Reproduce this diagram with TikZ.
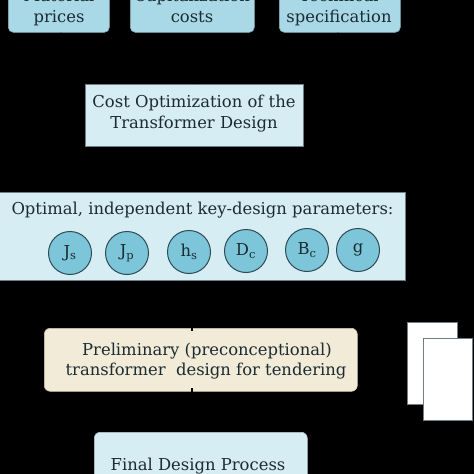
\documentclass[tikz,border=0pt]{standalone}
\usepackage{fontspec}
\setmainfont{DejaVu Serif}
\usetikzlibrary{arrows.meta}
\definecolor{txt}{HTML}{1B2B32}
\definecolor{topfill}{HTML}{A9D9E7}
\definecolor{lightfill}{HTML}{D6EDF4}
\definecolor{circfill}{HTML}{7DC6DA}
\definecolor{circline}{HTML}{2E4A52}
\definecolor{beige}{HTML}{F2EBD7}
\definecolor{edge}{HTML}{6E7E84}
\tikzset{
  every node/.style={text=txt, font=\fontsize{16.4}{21}\selectfont},
  topbox/.style={draw=topfill!80!black, fill=topfill, rounded corners=5pt, line width=0.6pt, align=center, inner sep=0pt, anchor=north west},
  flatbox/.style={draw=edge, fill=lightfill, line width=0.8pt, align=center, inner sep=0pt, anchor=north west},
  prelimbox/.style={draw=beige!85!black, fill=beige, rounded corners=6pt, line width=0.6pt, align=center, inner sep=0pt, anchor=north west},
  finalbox/.style={draw=lightfill!85!black, fill=lightfill, rounded corners=6pt, line width=0.6pt, align=center, inner sep=0pt, anchor=north west},
  param/.style={circle, draw=circline, fill=circfill, line width=1pt, minimum size=43pt, inner sep=0pt},
  docsheet/.style={draw=edge, fill=white, line width=1pt, anchor=north west, inner sep=0pt},
  link/.style={draw=black, line width=1.2pt}
}
\begin{document}
\begin{tikzpicture}[x=1pt,y=-1pt]
\fill[black] (0,0) rectangle (474,474);
\useasboundingbox (0,0) rectangle (474,474);
\clip (0,0) rectangle (474,474);
% top inputs
\node[topbox, minimum width=101pt, minimum height=62pt] (mat) at (8,-30) {};
\node[topbox, minimum width=124pt, minimum height=62pt] (cap) at (130,-30) {};
\node[topbox, minimum width=121pt, minimum height=62pt] (tec) at (279,-30) {};
\node[anchor=base] (matT) at (59,22) {prices};
\node[anchor=base] (matU) at (59,1) {Material};
\node[anchor=base] (capT) at (192,22) {costs};
\node[anchor=base] (capU) at (192,1) {Capitalization};
\node[anchor=base] (tecT) at (339,22) {specification};
\node[anchor=base] (tecU) at (339,1) {Technical};
% cost optimization
\node[flatbox, minimum width=218pt, minimum height=62pt] (cost) at (85,84) {};
\node[anchor=base, align=center] (costT) at (194,107) {Cost Optimization of the};
\node[anchor=base] (costU) at (194,128) {Transformer Design};
% parameters
\node[flatbox, minimum width=410pt, minimum height=88pt] (par) at (-5,192) {};
\node[anchor=base] (parT) at (202.5,214) {Optimal, independent key-design parameters:};
\node[param] (js) at (70,253) {J\textsubscript{s}};
\node[param] (jp) at (127,253) {J\textsubscript{p}};
\node[param] (hs) at (189,252) {h\textsubscript{s}};
\node[param] (dc) at (246,251) {D\textsubscript{c}};
\node[param] (bc) at (307,250) {B\textsubscript{c}};
\node[param] (g) at (358,250) {g};
% preliminary
\node[prelimbox, minimum width=313pt, minimum height=63pt] (pre) at (44,328) {};
\node[anchor=base] (preT) at (207,355) {Preliminary (preconceptional)};
\node[anchor=base] (preU) at (206,375) {transformer\ \ design for tendering};
% documents
\node[docsheet, minimum width=50pt, minimum height=82pt] (doc1) at (407,322) {};
\node[docsheet, minimum width=49pt, minimum height=82pt] (doc2) at (423,338) {};
% final
\node[finalbox, minimum width=213pt, minimum height=70pt] (fin) at (94,432) {};
\node[anchor=base] (finT) at (198,470) {Final Design Process};
% connectors (black on black)
\draw[link, shorten <=1.5pt, shorten >=1.5pt] (mat.south) -- (cost.north);
\draw[link, shorten <=1.5pt, shorten >=1.5pt] (cap.south) -- (cost.north);
\draw[link, shorten <=1.5pt, shorten >=1.5pt] (tec.south) -- (cost.north);
\draw[link, shorten <=1.5pt, shorten >=1.5pt] (cost.south) -- (par.north -| cost.south);
\coordinate (preIn) at (192,331);
\coordinate (parOut) at (192,282);
\draw[link] (parOut) -- (preIn);
\coordinate (preOut) at (192,388);
\coordinate (finIn) at (192,430);
\draw[link] (preOut) -- (finIn);
\end{tikzpicture}
\end{document}
